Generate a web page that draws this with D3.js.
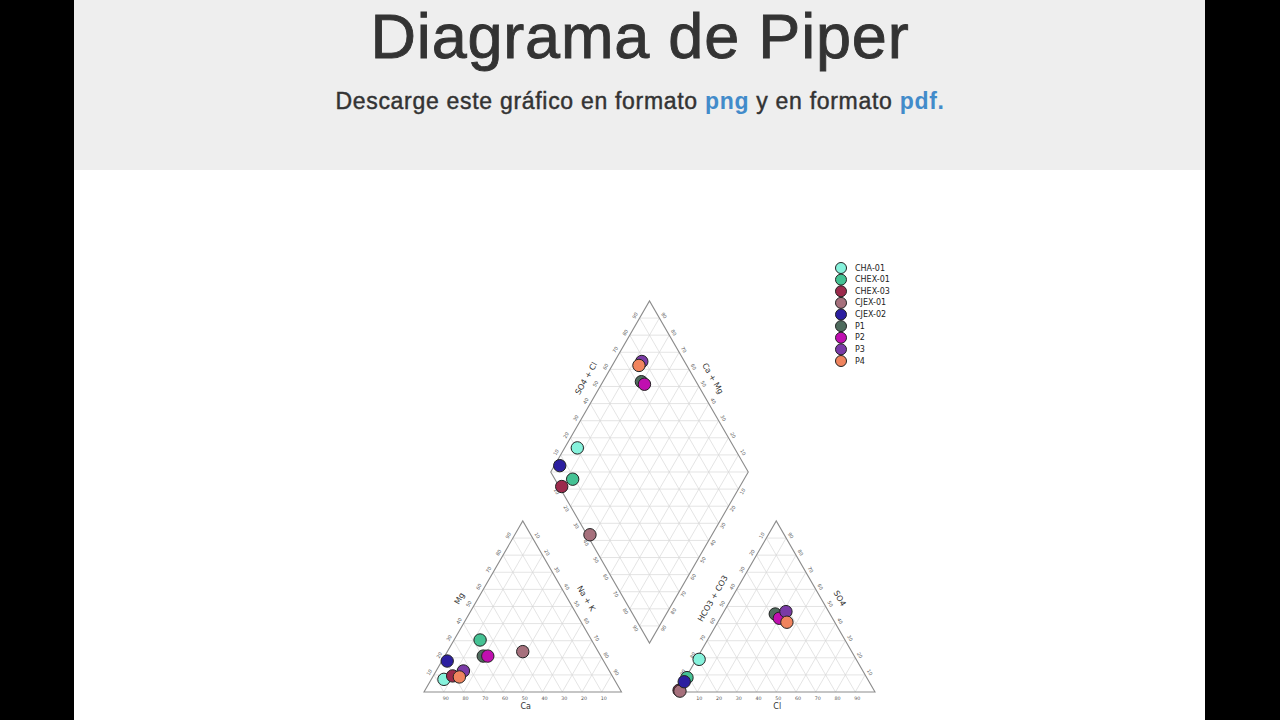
<!DOCTYPE html>
<html>
<head>
<meta charset="utf-8">
<script src="https://cdn.jsdelivr.net/npm/d3@7"></script>
<style>
  html, body { margin: 0; padding: 0; background: #000; }
  svg { display: block; }
</style>
</head>
<body>
<svg id="chart"></svg>
<script>
// Page size
const width = 1280;
const height = 720;

// Samples and their ionic percentages (meq %)
const samples = ["CHA-01", "CHEX-01", "CHEX-03", "CJEX-01", "CJEX-02", "P1", "P2", "P3", "P4"];
const colors  = ["#86f2dc", "#45c294", "#9c2a4c", "#a6707c", "#2c1fa0", "#4e6b5d", "#c00fb0", "#7a3aa6", "#f0845e"];

// cations
const mg  = [7.4, 30.4, 9.4, 23.6, 18.1, 21.0, 21.0, 12.3, 8.8];
const naK = [6.4, 13.2, 9.8, 38.2, 2.7, 19.5, 21.8, 13.8, 13.5];
// anions
const so4 = [19.1, 8.4, 1.0, 0.5, 6.0, 45.6, 43.1, 47.0, 40.8];
const cl  = [1.4, 0.6, 0.3, 1.0, 0.4, 26.7, 30.0, 31.4, 35.0];

// tick labels (percent)
const ticks = [10, 20, 30, 40, 50, 60, 70, 80, 90];

const data = samples.map((s, i) => ({
  name: s, color: colors[i],
  mg: mg[i], naK: naK[i], ca: 100 - mg[i] - naK[i],
  so4: so4[i], cl: cl[i], hco3: 100 - so4[i] - cl[i]
}));

// geometry of the three fields
const side = 197.5;
const h = side * Math.sqrt(3) / 2;
const catO = [424, 692];     // bottom-left corner of cation triangle
const anO = [677.5, 692];    // bottom-left corner of anion triangle
const diaL = [550.75, 472];  // left vertex of diamond

// percent -> pixel scales
const sx = d3.scaleLinear([0, 100], [0, side]);
const sy = d3.scaleLinear([0, 100], [0, h]);

// ternary: a = component toward right corner, b = component toward apex
const tern = (o, a, b) => [o[0] + sx(a + b / 2), o[1] - sy(b)];
// diamond: p = SO4+Cl (toward top), q = Na+K (toward bottom)
const dia = (p, q) => [diaL[0] + sx(p) / 2 + sx(q) / 2, diaL[1] - sy(p) + sy(q)];

const svg = d3.select("#chart")
    .attr("width", width)
    .attr("height", height)
    .attr("viewBox", [0, 0, width, height]);

// page background
svg.append("rect").attr("width", width).attr("height", height).attr("fill", "#000");
svg.append("rect").attr("x", 74).attr("width", 1131).attr("height", height).attr("fill", "#fff");
svg.append("rect").attr("x", 74).attr("width", 1131).attr("height", 170).attr("fill", "#eeeeee");

const headFont = "'Helvetica Neue', 'Liberation Sans', Arial, sans-serif";

svg.append("text")
    .attr("x", 640).attr("y", 58)
    .attr("text-anchor", "middle")
    .attr("font-family", headFont)
    .attr("font-size", 63)
    .attr("letter-spacing", 0.8)
    .attr("fill", "#333")
    .attr("stroke", "#333")
    .attr("stroke-width", 0.9)
    .text("Diagrama de Piper");

const sub = svg.append("text")
    .attr("x", 640).attr("y", 109)
    .attr("text-anchor", "middle")
    .attr("font-family", headFont)
    .attr("font-size", 23)
    .attr("letter-spacing", 0.7)
    .attr("fill", "#333")
    .attr("stroke", "#333")
    .attr("stroke-width", 0.45);
sub.append("tspan").text("Descarge este gráfico en formato ");
sub.append("tspan").attr("fill", "#428bca").attr("stroke", "none").attr("font-weight", "bold").text("png");
sub.append("tspan").text(" y en formato ");
sub.append("tspan").attr("fill", "#428bca").attr("stroke", "none").attr("font-weight", "bold").text("pdf.");

const plot = svg.append("g");
const line = d3.line();

const grid = plot.append("g")
    .attr("fill", "none")
    .attr("stroke", "#d9d9d9")
    .attr("stroke-width", 0.7);

// triangle grids
for (const o of [catO, anO]) {
  for (const t of ticks) {
    grid.append("path").attr("d", line([tern(o, 0, t), tern(o, 100 - t, t)]));
    grid.append("path").attr("d", line([tern(o, t, 0), tern(o, t, 100 - t)]));
    grid.append("path").attr("d", line([tern(o, 100 - t, 0), tern(o, 0, 100 - t)]));
  }
}
// diamond grid
for (const t of ticks) {
  grid.append("path").attr("d", line([dia(t, 0), dia(t, 100)]));
  grid.append("path").attr("d", line([dia(0, t), dia(100, t)]));
}
for (let d = -90; d <= 90; d += 10) {
  const a = d >= 0 ? dia(d, 0) : dia(0, -d);
  const b = d >= 0 ? dia(100, 100 - d) : dia(100 + d, 100);
  grid.append("path").attr("d", line([a, b]));
}

// outlines
const frame = plot.append("g")
    .attr("fill", "none")
    .attr("stroke", "#8c8c8c")
    .attr("stroke-width", 1.1);
for (const o of [catO, anO]) {
  frame.append("path").attr("d", line([tern(o, 0, 0), tern(o, 100, 0), tern(o, 0, 100)]) + "Z");
}
frame.append("path").attr("d", line([dia(0, 0), dia(100, 0), dia(100, 100), dia(0, 100)]) + "Z");

// tick labels
const tickG = plot.append("g")
    .attr("font-family", "'DejaVu Sans', sans-serif")
    .attr("font-size", 4.8)
    .attr("fill", "#555")
    .attr("text-anchor", "middle")
    .attr("dominant-baseline", "central");

const c60 = 0.5, s60 = Math.sqrt(3) / 2;
function tickText(pt, nrm, rot, label, off = 5) {
  const x = pt[0] + nrm[0] * off, y = pt[1] + nrm[1] * off;
  tickG.append("text")
      .attr("transform", `translate(${x},${y}) rotate(${rot})`)
      .text(label);
}
const nLeft = [-s60, -c60], nRight = [s60, -c60], nDown = [0, 1];
const nLowL = [-s60, c60], nLowR = [s60, c60];

for (const t of ticks) {
  // cation: Ca bottom, Mg left, Na+K right
  tickText([tern(catO, 100 - t, 0)[0] + 2, catO[1]], nDown, 0, t, 6);
  tickText(tern(catO, 0, t), nLeft, -60, t);
  tickText(tern(catO, t, 100 - t), nRight, 60, t);
  // anion: Cl bottom, HCO3 left, SO4 right
  tickText([tern(anO, t, 0)[0] + 2, anO[1]], nDown, 0, t, 6);
  tickText(tern(anO, 0, 100 - t), nLeft, -60, t);
  tickText(tern(anO, 100 - t, t), nRight, 60, t);
  // diamond
  tickText(dia(t, 0), nLeft, -60, t);
  tickText(dia(100, t), nRight, 60, 100 - t);
  tickText(dia(0, t), nLowL, 60, t);
  tickText(dia(t, 100), nLowR, -60, 100 - t);
}

// axis titles
const titleG = plot.append("g")
    .attr("font-family", "'DejaVu Sans', sans-serif")
    .attr("font-size", 8)
    .attr("fill", "#333")
    .attr("text-anchor", "middle")
    .attr("dominant-baseline", "central");
function axisTitle(pt, nrm, rot, label, off = 16) {
  titleG.append("text")
      .attr("transform", `translate(${pt[0] + nrm[0] * off},${pt[1] + nrm[1] * off}) rotate(${rot})`)
      .text(label);
}
axisTitle([tern(catO, 50, 0)[0] + 3, catO[1]], nDown, 0, "Ca", 14);
axisTitle([tern(anO, 50, 0)[0] + 1, anO[1]], nDown, 0, "Cl", 14);
axisTitle(tern(catO, 0, 50), nLeft, -60, "Mg");
axisTitle(tern(catO, 50, 50), nRight, 60, "Na + K");
axisTitle(tern(anO, 0, 50), nLeft, -60, "HCO3 + CO3");
axisTitle(tern(anO, 50, 50), nRight, 60, "SO4");
axisTitle(dia(50, 0), nLeft, -60, "SO4 + Cl");
axisTitle(dia(100, 50), nRight, 60, "Ca + Mg");

// sample points
const r = 6.2;
const pts = plot.append("g")
    .attr("stroke", "#222")
    .attr("stroke-width", 1);
for (const d of data) {
  const pc = tern(catO, d.naK, d.mg);
  const pa = tern(anO, d.cl, d.so4);
  const pd = dia(d.cl + d.so4, d.naK);
  for (const p of [pc, pa, pd]) {
    pts.append("circle")
        .attr("cx", p[0]).attr("cy", p[1]).attr("r", r)
        .attr("fill", d.color);
  }
}

// legend
const legY = d3.scalePoint(samples, [268, 361]);
const legend = plot.append("g");
legend.selectAll("circle")
  .data(data)
  .join("circle")
    .attr("cx", 841)
    .attr("cy", d => legY(d.name))
    .attr("r", 5.5)
    .attr("fill", d => d.color)
    .attr("stroke", "#222")
    .attr("stroke-width", 1);
legend.selectAll("text")
  .data(data)
  .join("text")
    .attr("x", 855)
    .attr("y", d => legY(d.name))
    .attr("dominant-baseline", "central")
    .attr("font-family", "'DejaVu Sans', sans-serif")
    .attr("font-size", 8)
    .attr("fill", "#222")
    .text(d => d.name);
</script>
</body>
</html>
